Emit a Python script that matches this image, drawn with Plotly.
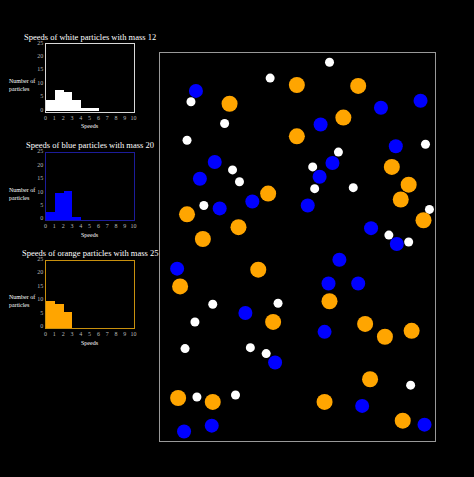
import plotly.graph_objects as go

# histogram counts per speed bin (0-1, 1-2, ...)
speed_bins = [0.5, 1.5, 2.5, 3.5, 4.5, 5.5]
white_counts = [4, 8, 7, 4, 1, 1]
blue_counts = [3, 10, 11, 1, 0, 0]
orange_counts = [10, 9, 6, 0, 0, 0]

# particle positions in the box (pixels from top-left corner)
white_x = [171, 111, 31, 65, 27, 268, 180, 73, 154, 80, 156, 195, 44, 272, 231, 251,
           53, 119, 35, 25, 91, 107, 253, 37, 76]
white_y = [9, 25, 49, 71, 88, 92, 100, 118, 115, 130, 137, 136, 154, 158, 184, 191,
           254, 253, 272, 299, 298, 304, 336, 348, 346]
blue_x = [36, 55, 40, 60, 93, 149, 223, 263, 162, 238, 174, 161, 213, 239, 17, 86,
          116, 24, 52, 181, 170, 200, 166, 204, 267]
blue_y = [38, 110, 127, 157, 150, 154, 55, 48, 72, 94, 111, 125, 177, 193, 218, 263,
          313, 383, 377, 209, 233, 233, 282, 357, 376]
orange_x = [138, 70, 138, 109, 27, 79, 43, 200, 185, 234, 251, 243, 266, 99, 20, 114,
            18, 53, 171, 207, 227, 254, 212, 166, 245]
orange_y = [32, 51, 84, 142, 163, 176, 188, 33, 65, 115, 133, 148, 169, 219, 236, 272,
            349, 353, 251, 274, 287, 281, 330, 353, 372]

W, H = 474, 477
def px_x(a, b):
    return [a / W, b / W]
def px_y(top, bottom):
    return [1 - bottom / H, 1 - top / H]

fig = go.Figure()
serif = "Liberation Serif, Times New Roman, serif"

hists = [
    ("white", white_counts, "white", "#d8d8d8", 40, 108, "Speeds of white particles with mass 12"),
    ("blue", blue_counts, "#0000ff", "#1c1c9a", 150, 218, "Speeds of blue particles with mass 20"),
    ("orange", orange_counts, "#ffa500", "#c8900e", 259, 327, "Speeds of orange particles with mass 25"),
]
for i, (name, counts, color, border, top, bottom, title) in enumerate(hists, start=1):
    xa = "x" if i == 1 else f"x{i}"
    ya = "y" if i == 1 else f"y{i}"
    fig.add_trace(go.Bar(x=speed_bins, y=counts, width=1, marker=dict(color=color, line=dict(width=0)),
                         xaxis=xa, yaxis=ya, showlegend=False))
    axis_style = dict(showgrid=False, zeroline=False, showline=True, mirror=True, linecolor=border,
                      linewidth=1, ticks="", tickfont=dict(family=serif, size=6, color="#bbbbbb"))
    fig.update_layout(**{
        ("xaxis" if i == 1 else f"xaxis{i}"): dict(axis_style, domain=px_x(44, 133), range=[0, 10],
                                                  tickvals=list(range(11)), anchor=ya),
        ("yaxis" if i == 1 else f"yaxis{i}"): dict(axis_style, domain=px_y(top, bottom), range=[0, 25],
                                                  tickvals=[0, 5, 10, 15, 20, 25], anchor=xa,
                                                  ticklabelshift=-2),
    })
    fig.add_annotation(text=title, x=89 / W, y=1 - (top - 8) / H, xref="paper", yref="paper",
                       xanchor="center", yanchor="middle", showarrow=False,
                       font=dict(family=serif, size=8.5, color="white"))
    fig.add_annotation(text="Number of<br>particles", x=5 / W, y=1 - (top + 41) / H, xref="paper",
                       yref="paper", xanchor="left", yanchor="middle", align="left", showarrow=False,
                       font=dict(family=serif, size=6, color="white"))
    fig.add_annotation(text="Speeds", x=89 / W, y=1 - (bottom + 15) / H, xref="paper", yref="paper",
                       xanchor="center", yanchor="middle", showarrow=False,
                       font=dict(family=serif, size=6, color="white"))

# main particle box
for xs, ys, color, size in [(white_x, white_y, "white", 9), (blue_x, blue_y, "#0000ff", 14),
                            (orange_x, orange_y, "#ffa500", 16)]:
    fig.add_trace(go.Scatter(x=xs, y=ys, mode="markers", xaxis="x4", yaxis="y4", showlegend=False,
                             marker=dict(color=color, size=size, line=dict(width=0))))

box_style = dict(showgrid=False, zeroline=False, showline=True, mirror=True, linecolor="#999999",
                 linewidth=1, showticklabels=False, ticks="")
fig.update_layout(
    xaxis4=dict(box_style, domain=px_x(160, 438), range=[0, 278], anchor="y4"),
    yaxis4=dict(box_style, domain=px_y(49, 442), range=[393, 0], anchor="x4"),
    width=W, height=H, margin=dict(l=0, r=0, t=0, b=0),
    paper_bgcolor="black", plot_bgcolor="black", bargap=0,
)

# pin the figure to the top-left corner of a black page
page_css = ("document.documentElement.style.cssText='margin:0;padding:0;overflow:hidden;background:black';"
            "document.body.style.cssText='margin:0;padding:0;overflow:hidden;background:black';"
            "var gd=document.getElementById('{plot_id}');"
            "gd.style.position='fixed';gd.style.left='0px';gd.style.top='0px';")
fig.write_html("out.html", config={"displayModeBar": False}, post_script=page_css)
